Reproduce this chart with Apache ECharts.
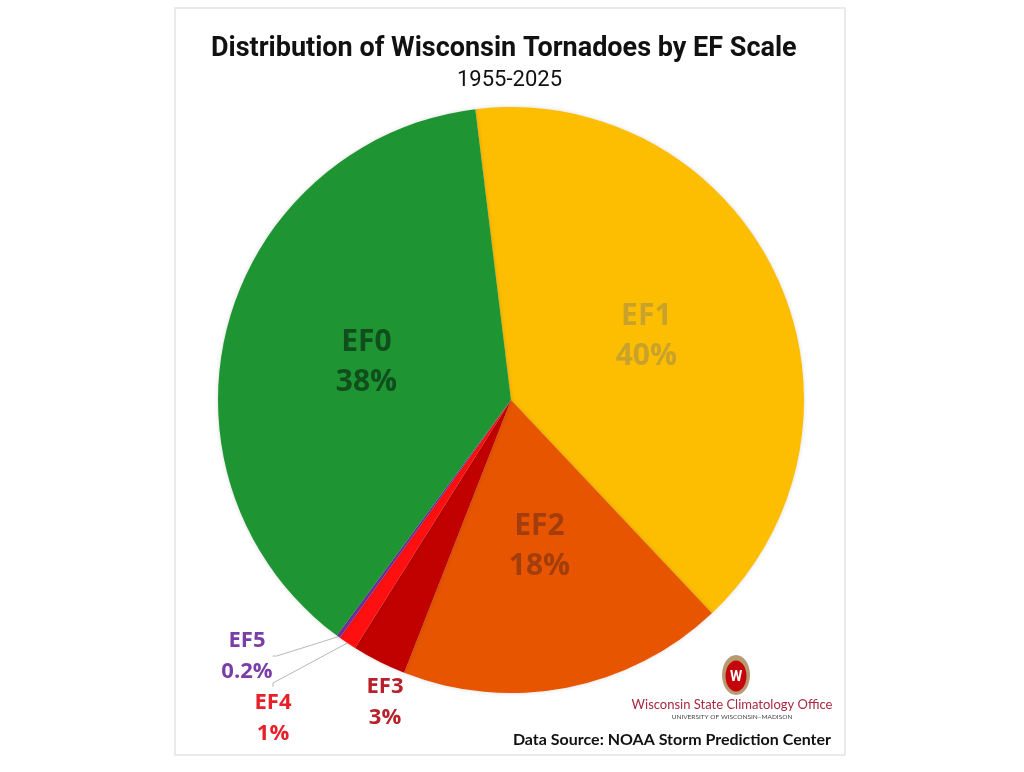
<!DOCTYPE html>
<html lang="en">
<head>
    <meta charset="UTF-8">
    <title>wi_tornado_ef_pie</title>
    <style type="text/css">
        html, body {
            margin: 0;
            padding: 0;
            background: #ffffff;
        }
        #box {
            width: 1024px;
            height: 772px;
        }
    </style>
</head>
<body>
<div id="box"></div>
</body>
<script type="text/javascript" src="https://cdn.jsdelivr.net/npm/echarts@6/dist/echarts.min.js"></script>
<script type="text/javascript">
    // chart data
    let categories = ['EF1', 'EF2', 'EF3', 'EF4', 'EF5', 'EF0'];
    let shares = [40, 18, 3, 1, 0.2, 38];
    let sliceColors = ['#fdbd00', '#e85500', '#c10000', '#ff1010', '#7030a0', '#1e9432'];
    let labelColors = ['#c9a22c', '#a33d0c', '#b8202a', '#e8202a', '#7a3fa6', '#104f1d'];

    // hand placed labels for the thin slices
    let outerLabelPos = {
        2: [385, 702],
        3: [273, 718],
        4: [247, 656]
    };

    function pieEchart() {
        let myChart = echarts.init(document.getElementById('box'));
        let data = categories.map(function (name, i) {
            let item = {
                name: name,
                value: shares[i],
                itemStyle: {color: sliceColors[i]},
                label: {color: labelColors[i]}
            };
            if (outerLabelPos[i]) {
                item.label.position = 'outside';
                item.label.fontSize = 22;
                item.label.lineHeight = 31;
                item.labelLine = {show: i !== 2, length: 20, length2: 4};
            }
            return item;
        });
        let option = {
            backgroundColor: '#ffffff',
            title: [
                {
                    text: 'Distribution of Wisconsin Tornadoes by EF Scale',
                    left: 206,
                    top: 31,
                    textStyle: {
                        fontFamily: 'Roboto',
                        fontWeight: 'bold',
                        fontSize: 27,
                        color: '#111111'
                    }
                },
                {
                    text: '1955-2025',
                    left: 452,
                    top: 64,
                    textStyle: {
                        fontFamily: 'Roboto',
                        fontWeight: 'normal',
                        fontSize: 22,
                        color: '#111111'
                    }
                }
            ],
            graphic: [
                {
                    type: 'rect',
                    z: -10,
                    shape: {x: 175, y: 8, width: 670, height: 747},
                    style: {fill: 'none', stroke: '#e4e4e4', lineWidth: 1.5}
                },
                {
                    type: 'ellipse',
                    shape: {cx: 736, cy: 675, rx: 14, ry: 20},
                    style: {fill: '#b89a72'}
                },
                {
                    type: 'ellipse',
                    shape: {cx: 736, cy: 676, rx: 10.5, ry: 15.5},
                    style: {fill: '#c5050c'}
                },
                {
                    type: 'text',
                    x: 736,
                    y: 677,
                    style: {
                        text: 'W',
                        fill: '#ffffff',
                        font: 'bold 14px Roboto',
                        align: 'center',
                        verticalAlign: 'middle'
                    }
                },
                {
                    type: 'text',
                    x: 732,
                    y: 705,
                    style: {
                        text: 'Wisconsin State Climatology Office',
                        fill: '#a8283e',
                        font: '13px Lato',
                        align: 'center',
                        verticalAlign: 'middle'
                    }
                },
                {
                    type: 'text',
                    x: 732,
                    y: 717,
                    style: {
                        text: 'UNIVERSITY OF WISCONSIN–MADISON',
                        fill: '#444444',
                        font: '6.5px Lato',
                        align: 'center',
                        verticalAlign: 'middle'
                    }
                },
                {
                    type: 'text',
                    x: 831,
                    y: 740,
                    style: {
                        text: 'Data Source: NOAA Storm Prediction Center',
                        fill: '#111111',
                        font: 'bold 16px Lato',
                        align: 'right',
                        verticalAlign: 'middle'
                    }
                }
            ],
            series: [
                {
                    name: 'EF Scale',
                    type: 'pie',
                    radius: 293,
                    center: [511, 400],
                    startAngle: 97,
                    clockwise: true,
                    avoidLabelOverlap: false,
                    label: {
                        show: true,
                        position: 'inside',
                        formatter: function (p) {
                            return p.name + '\n' + p.value + '%';
                        },
                        fontFamily: 'Open Sans',
                        fontWeight: 'bold',
                        fontSize: 30,
                        lineHeight: 40
                    },
                    labelLine: {
                        lineStyle: {color: '#b8b8b8', width: 1}
                    },
                    labelLayout: function (params) {
                        let p = outerLabelPos[params.dataIndex];
                        if (!p) {
                            return {};
                        }
                        return {x: p[0], y: p[1], align: 'center', verticalAlign: 'middle'};
                    },
                    itemStyle: {
                        borderWidth: 0,
                        shadowBlur: 4,
                        shadowColor: 'rgba(0, 0, 0, 0.15)'
                    },
                    emphasis: {disabled: true},
                    data: data
                }
            ]
        };
        myChart.setOption(option);
    }

    pieEchart();
</script>
</html>
